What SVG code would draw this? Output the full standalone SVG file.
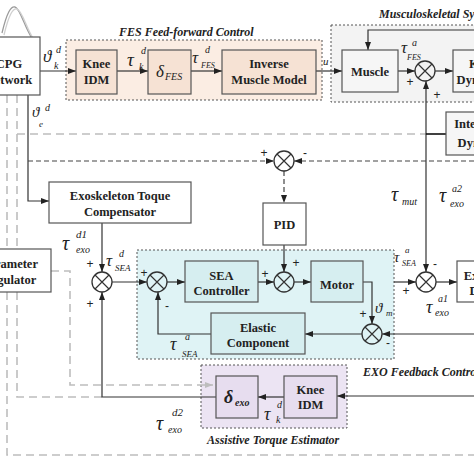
<svg xmlns="http://www.w3.org/2000/svg" width="474" height="474" viewBox="0 0 474 474">
<defs>
<style>
.box{stroke:#555;stroke-width:1.2}
.w{fill:#fff}
.fes{fill:#f6e2d4}
.ms{fill:#f6f6f6}
.sea{fill:#d6eef0}
.ate{fill:#e7ddef}
.reg{stroke:#555;stroke-width:1;stroke-dasharray:2 2}
.t{font-family:"Liberation Serif",serif;font-weight:bold;font-size:12.5px;fill:#222;text-anchor:middle}
.ti{font-family:"Liberation Serif",serif;font-weight:bold;font-style:italic;font-size:12px;fill:#222}
.m{font-family:"Liberation Serif",serif;font-style:italic;fill:#222}
.s{font-family:"Liberation Sans",sans-serif;font-size:12px;fill:#222;text-anchor:middle}
.ln{fill:none;stroke:#333;stroke-width:1.2}
.dd{fill:none;stroke:#444;stroke-width:1.2;stroke-dasharray:5 3}
.lg{fill:none;stroke:#bdbdbd;stroke-width:1.6;stroke-dasharray:8 5}
.sum circle{fill:none;stroke:#333;stroke-width:1.3}
.sum path{stroke:#333;stroke-width:1.2}
</style>
<marker id="a" viewBox="0 0 8 6" refX="8" refY="3" markerWidth="8" markerHeight="6" markerUnits="userSpaceOnUse" orient="auto"><path d="M0,0L8,3L0,6z" fill="#222"/></marker>
<marker id="ag" viewBox="0 0 8 6" refX="8" refY="3" markerWidth="8" markerHeight="6" markerUnits="userSpaceOnUse" orient="auto"><path d="M0,0L8,3L0,6z" fill="#bdbdbd"/></marker>
</defs>
<rect width="474" height="474" fill="#fff"/>

<!-- sine wave -->
<g id="wave" fill="none" stroke-width="1.3">
<path d="M2,33 C7,12 11,6 15,7 C20,8 25,28 32,38" stroke="#9a9a9a"/>
<path d="M4,35 C9,14 13,8 17,9 C22,10 27,30 34,40" stroke="#cfcfcf"/>
</g>

<!-- regions -->
<g id="fes-region">
<rect x="66" y="40" width="256" height="60" fill="#fbede3" class="reg"/>
<text class="ti" x="119" y="36">FES Feed-forward Control</text>
</g>
<g id="ms-region">
<rect x="331" y="25" width="150" height="77" fill="#f3f3f3" class="reg"/>
<text class="ti" x="379" y="18">Musculoskeletal System</text>
</g>
<g id="exo-region">
<rect x="137" y="250" width="257" height="109" fill="#dff3f5" class="reg"/>
<text class="ti" x="363" y="376">EXO Feedback Control</text>
</g>
<g id="ate-region">
<rect x="201" y="365" width="146" height="63" fill="#ece4f3" class="reg"/>
<text class="ti" x="207" y="444">Assistive Torque Estimator</text>
</g>

<!-- connectors -->
<g id="connectors">
<path class="lg" d="M7,95V249"/>
<path class="lg" d="M17,95V249"/>
<path class="lg" d="M17,134H426"/>
<path class="lg" d="M7,292V455H474"/>
<path class="lg" d="M17,292V397H102"/>
<path class="lg" d="M51,271H70V385H213" marker-end="url(#ag)"/>
<path class="ln" d="M40,71H76" marker-end="url(#a)"/>
<path class="ln" d="M117,71H148" marker-end="url(#a)"/>
<path class="ln" d="M191,71H222" marker-end="url(#a)"/>
<path class="ln" d="M316,71H342" marker-end="url(#a)"/>
<path class="ln" d="M398,71H415" marker-end="url(#a)"/>
<path class="ln" d="M435,71H453" marker-end="url(#a)"/>
<path class="ln" d="M474,30H368V50" marker-end="url(#a)"/>
<path class="ln" d="M426,134V81" marker-end="url(#a)"/>
<path class="ln" d="M426,134V272" marker-end="url(#a)"/>
<path d="M446,134H426" stroke="#111" stroke-width="1.6"/>
<path class="ln" d="M28,95V201H49" marker-end="url(#a)"/>
<path class="dd" d="M28,161H274" marker-end="url(#a)"/>
<path class="dd" d="M474,161H294" marker-end="url(#a)"/>
<path class="dd" d="M284,171V203" marker-end="url(#a)"/>
<path class="ln" d="M102,223V272" marker-end="url(#a)"/>
<path class="ln" d="M112,282H147" marker-end="url(#a)"/>
<path class="ln" d="M167,282H185" marker-end="url(#a)"/>
<path class="ln" d="M258,282H274" marker-end="url(#a)"/>
<path class="ln" d="M284,245V272" marker-end="url(#a)"/>
<path class="ln" d="M294,282H311" marker-end="url(#a)"/>
<path class="ln" d="M363,282H372V324" marker-end="url(#a)"/>
<path class="ln" d="M474,334H382" marker-end="url(#a)"/>
<path class="ln" d="M362,334H305" marker-end="url(#a)"/>
<path class="ln" d="M211,334H158V292" marker-end="url(#a)"/>
<path class="ln" d="M394,282H416" marker-end="url(#a)"/>
<path class="ln" d="M436,282H457" marker-end="url(#a)"/>
<path class="ln" d="M474,396H337" marker-end="url(#a)"/>
<path class="ln" d="M284,397H258" marker-end="url(#a)"/>
<path class="ln" d="M216,397H102V292" marker-end="url(#a)"/>
</g>

<!-- nodes -->
<g id="cpg"><rect class="box w" x="-30" y="37" width="70" height="58"/><text class="t" x="9" y="68">CPG</text><text class="t" x="9" y="84">Network</text></g>
<g id="knee-idm"><rect class="box fes" x="76" y="50" width="41" height="44"/><text class="t" x="96.5" y="67.5">Knee</text><text class="t" x="96.5" y="83.5">IDM</text></g>
<g id="delta-fes"><rect class="box fes" x="148" y="50" width="43" height="44"/><text class="m" x="156" y="77" font-size="17">δ</text><text class="m" x="165" y="80" font-size="10">FES</text></g>
<g id="inverse"><rect class="box fes" x="222" y="50" width="94" height="44"/><text class="t" x="269" y="67.5">Inverse</text><text class="t" x="269" y="84">Muscle Model</text></g>
<g id="muscle"><rect class="box ms" x="342" y="50" width="56" height="42"/><text class="t" x="370" y="75.5">Muscle</text></g>
<g id="knee-dyn"><rect class="box ms" x="453" y="50" width="60" height="42"/><text class="t" x="483" y="67.5" fill="#a87040">Knee</text><text class="t" x="483" y="84">Dynamics</text></g>
<g id="interaction"><rect class="box ms" x="446" y="112" width="74" height="43"/><text class="t" x="484" y="128">Interaction</text><text class="t" x="484" y="147">Dynamics</text></g>
<g id="exo-comp"><rect class="box w" x="49" y="182" width="142" height="41"/><text class="t" x="120" y="200">Exoskeleton Toque</text><text class="t" x="120" y="215.5">Compensator</text></g>
<g id="pid"><rect class="box w" x="263" y="203" width="43" height="42"/><text class="t" x="284.5" y="228.5">PID</text></g>
<g id="param"><rect class="box w" x="-30" y="249" width="81" height="43"/><text class="t" x="9.5" y="267.5">Parameter</text><text class="t" x="9.5" y="283.5">Regulator</text></g>
<g id="sea-ctrl"><rect class="box sea" x="185" y="261" width="73" height="41"/><text class="t" x="221.5" y="279.5">SEA</text><text class="t" x="221.5" y="294.5">Controller</text></g>
<g id="motor"><rect class="box sea" x="311" y="261" width="52" height="41"/><text class="t" x="337" y="288.5">Motor</text></g>
<g id="elastic"><rect class="box sea" x="211" y="313" width="94" height="41"/><text class="t" x="258" y="331.5">Elastic</text><text class="t" x="258" y="346.5">Component</text></g>
<g id="exo-dyn"><rect class="box w" x="457" y="261" width="80" height="41"/><text class="t" x="496" y="279.5">Exoskeleton</text><text class="t" x="496" y="294.5">Dynamics</text></g>
<g id="delta-exo"><rect class="box ate" x="216" y="376" width="42" height="42"/><text class="m" x="224" y="403" font-size="18" font-weight="bold">δ</text><text class="m" x="235" y="406" font-size="10" font-weight="bold">exo</text></g>
<g id="knee-idm2"><rect class="box ate" x="284" y="376" width="53" height="42"/><text class="t" x="310.5" y="393.5">Knee</text><text class="t" x="310.5" y="408.5">IDM</text></g>

<!-- summing junctions -->
<g id="sum-ms" class="sum"><circle cx="425" cy="71" r="10"/><path d="M418,64L432,78M432,64L418,78"/></g>
<g id="sum-pid" class="sum"><circle cx="284" cy="161" r="10"/><path d="M277,154L291,168M291,154L277,168"/></g>
<g id="sum-d" class="sum"><circle cx="102" cy="282" r="10"/><path d="M95,275L109,289M109,275L95,289"/></g>
<g id="sum-sea" class="sum"><circle cx="157" cy="282" r="10"/><path d="M150,275L164,289M164,275L150,289"/></g>
<g id="sum-motor" class="sum"><circle cx="284" cy="282" r="10"/><path d="M277,275L291,289M291,275L277,289"/></g>
<g id="sum-m" class="sum"><circle cx="372" cy="334" r="10"/><path d="M365,327L379,341M379,327L365,341"/></g>
<g id="sum-exo" class="sum"><circle cx="426" cy="282" r="10"/><path d="M419,275L433,289M433,275L419,289"/></g>

<!-- labels -->
<g id="labels">
<text class="m" x="43" y="62" font-size="17">ϑ</text><text class="m" x="56" y="53" font-size="10">d</text><text class="m" x="54" y="69" font-size="10">k</text>
<text class="m" x="32" y="117" font-size="15">ϑ</text><text class="m" x="45" y="111" font-size="10">d</text><text class="m" x="39" y="127" font-size="9">e</text>
<text class="m" x="127" y="66" font-size="19">τ</text><text class="m" x="141" y="54" font-size="10">d</text><text class="m" x="139" y="70" font-size="10">k</text>
<text class="m" x="192" y="63" font-size="17">τ</text><text class="m" x="205" y="53" font-size="10">d</text><text class="m" x="201" y="68" font-size="8">FES</text>
<text class="m" x="323" y="65" font-size="11">u</text>
<text class="m" x="401" y="53" font-size="17">τ</text><text class="m" x="412" y="46" font-size="10">a</text><text class="m" x="407" y="60" font-size="8">FES</text>
<text class="m" x="391" y="201" font-size="20">τ</text><text class="m" x="402" y="205" font-size="10">mut</text>
<text class="m" x="439" y="202" font-size="20">τ</text><text class="m" x="452" y="192" font-size="10">a2</text><text class="m" x="450" y="207" font-size="10">exo</text>
<text class="m" x="62" y="250" font-size="20">τ</text><text class="m" x="76" y="238" font-size="11">d1</text><text class="m" x="76" y="253" font-size="10">exo</text>
<text class="m" x="106" y="266" font-size="17">τ</text><text class="m" x="119" y="257" font-size="10">d</text><text class="m" x="115" y="271" font-size="9">SEA</text>
<text class="m" x="170" y="350" font-size="18">τ</text><text class="m" x="185" y="340" font-size="10">a</text><text class="m" x="182" y="357" font-size="9">SEA</text>
<text class="m" x="394" y="262" font-size="15">τ</text><text class="m" x="405" y="253" font-size="9">a</text><text class="m" x="402" y="266" font-size="8">SEA</text>
<text class="m" x="426" y="313" font-size="18">τ</text><text class="m" x="438" y="302" font-size="10">a1</text><text class="m" x="435" y="316" font-size="10">exo</text>
<text class="m" x="375" y="313" font-size="15">ϑ</text><text class="m" x="386" y="316" font-size="9">m</text>
<text class="m" x="264" y="420" font-size="18">τ</text><text class="m" x="277" y="408" font-size="10">d</text><text class="m" x="276" y="423" font-size="10">k</text>
<text class="m" x="156" y="430" font-size="20">τ</text><text class="m" x="172" y="416" font-size="11">d2</text><text class="m" x="168" y="433" font-size="10">exo</text>
<text class="s" x="410" y="86">+</text><text class="s" x="437" y="99">+</text>
<text class="s" x="264" y="157">+</text><text class="s" x="305" y="157">-</text>
<text class="s" x="90" y="268">+</text><text class="s" x="90" y="308">+</text>
<text class="s" x="144" y="277">+</text><text class="s" x="167" y="310">-</text>
<text class="s" x="265" y="278">+</text><text class="s" x="296" y="267">+</text>
<text class="s" x="363" y="318">+</text><text class="s" x="388" y="347">-</text>
<text class="s" x="406" y="295">+</text><text class="s" x="435" y="268">-</text>
</g>
</svg>
